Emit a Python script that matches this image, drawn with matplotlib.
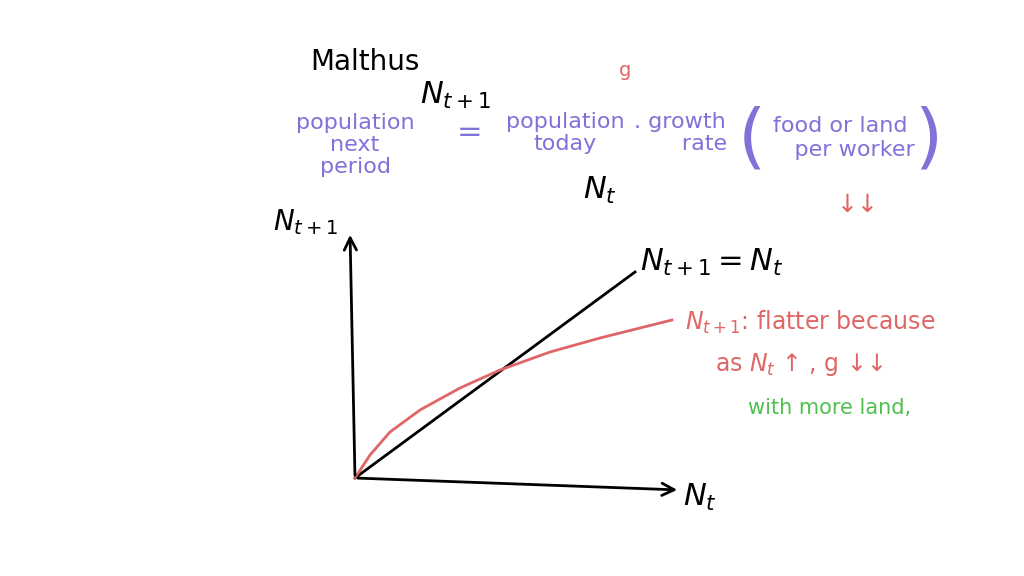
import matplotlib
matplotlib.use("Agg")
import matplotlib.pyplot as plt

# sketch coordinates in picture pixels (x right, y down)
origin = (355, 478)
yaxis_top = (350, 232)
xaxis_end = (680, 490)
line_x = [355, 635]
line_y = [478, 272]
curve_x = [355, 370, 390, 420, 460, 500, 550, 600, 640, 672]
curve_y = [478, 455, 432, 410, 388, 370, 352, 338, 328, 320]

PURPLE = "#7f72d8"
RED = "#e06666"
GREEN = "#4cc24c"

fig = plt.figure(figsize=(10.24, 5.76), dpi=100)
ax = fig.add_axes([0, 0, 1, 1])
ax.set_xlim(0, 1024)
ax.set_ylim(576, 0)
ax.axis("off")

arrow = dict(arrowstyle="->", color="black", lw=2, mutation_scale=22)
ax.annotate("", xy=yaxis_top, xytext=origin, arrowprops=arrow)
ax.annotate("", xy=xaxis_end, xytext=origin, arrowprops=arrow)
ax.plot(line_x, line_y, color="black", lw=2)
ax.plot(curve_x, curve_y, color=RED, lw=2)

ax.text(310, 62, "Malthus", fontsize=20, va="center")
ax.text(355, 145, "population\nnext\nperiod", fontsize=16, color=PURPLE, ha="center", va="center", linespacing=1.1)
ax.text(420, 95, r"$N_{t+1}$", fontsize=22, va="center")
ax.text(470, 132, "=", fontsize=22, color=PURPLE, ha="center", va="center")
ax.text(565, 133, "population\ntoday", fontsize=16, color=PURPLE, ha="center", va="center", linespacing=1.1)
ax.text(625, 70, "g", fontsize=14, color=RED, ha="center", va="center")
ax.text(680, 133, ". growth\n       rate", fontsize=16, color=PURPLE, ha="center", va="center", linespacing=1.1)
ax.text(752, 140, "(", fontsize=52, color=PURPLE, ha="center", va="center")
ax.text(840, 138, "food or land\n    per worker", fontsize=16, color=PURPLE, ha="center", va="center", linespacing=1.3)
ax.text(928, 140, ")", fontsize=52, color=PURPLE, ha="center", va="center")
ax.text(600, 190, r"$N_t$", fontsize=22, ha="center", va="center")
ax.text(858, 205, "↓↓", fontsize=18, color=RED, ha="center", va="center")

ax.text(305, 222, r"$N_{t+1}$", fontsize=20, ha="center", va="center")
ax.text(640, 262, r"$N_{t+1} = N_t$", fontsize=22, va="center")
ax.text(685, 322, r"$N_{t+1}$: flatter because", fontsize=17, color=RED, va="center")
ax.text(715, 365, r"as $N_t$ ↑ , g ↓↓", fontsize=17, color=RED, va="center")
ax.text(748, 408, "with more land,", fontsize=15, color=GREEN, va="center")
ax.text(700, 497, r"$N_t$", fontsize=22, ha="center", va="center")

fig.savefig("out.png", dpi=100)
